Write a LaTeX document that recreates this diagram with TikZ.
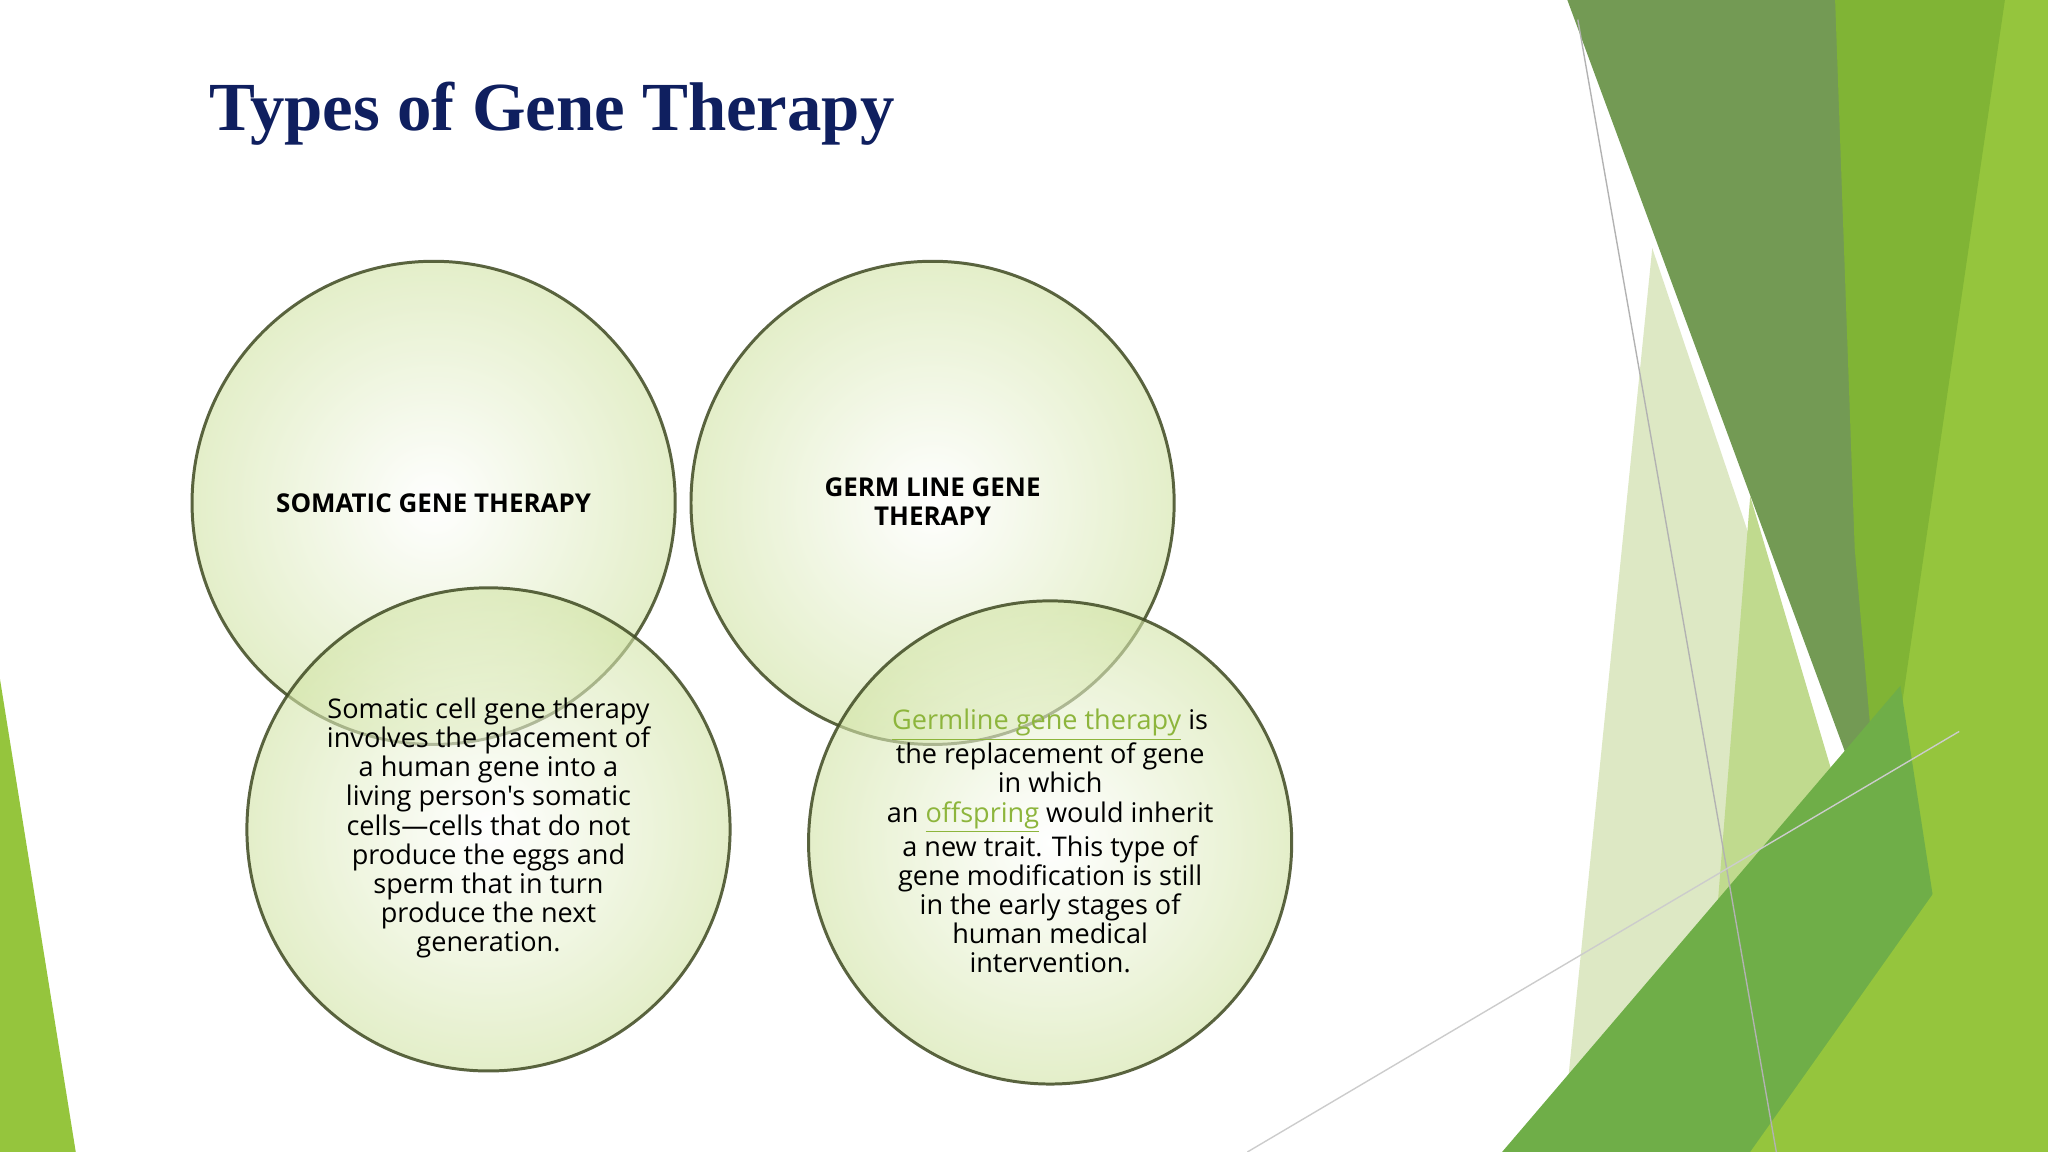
\documentclass[tikz,border=0pt]{standalone}
\usepackage{fontspec}
\setmainfont{Liberation Serif}
\newfontfamily\bodyf{Open Sans}
\usetikzlibrary{shadings}
\definecolor{navy}{HTML}{0F1F5F}
\definecolor{dgreen}{HTML}{739A54}
\definecolor{bgreen}{HTML}{80B435}
\definecolor{lgreen}{HTML}{95C53D}
\definecolor{pgreen}{HTML}{DDE8C4}
\definecolor{mgreen}{HTML}{6FAE48}
\definecolor{linkc}{HTML}{8DB53C}
\definecolor{edgec}{HTML}{3F4A22}
\definecolor{bubout}{HTML}{D2E4A6}
\tikzset{
  bubble/.style={circle, minimum size=7.4cm, draw=edgec, line width=1.3pt,
    inner color=white, outer color=bubout, fill opacity=0.6, draw opacity=0.85},
  body/.style={font=\bodyf\fontsize{11.8}{12.7}\selectfont, align=center, text=black},
  head/.style={font=\bodyf\bfseries\fontsize{11.3}{13}\selectfont, align=center}
}
\newcommand{\lnk}[1]{\textcolor{linkc}{\underline{#1}}}
\begin{document}
\begin{tikzpicture}[x=0.02cm,y=-0.02cm]
\useasboundingbox (0,0) rectangle (1568,882);
\fill[white] (0,0) rectangle (1568,882);
% background shapes
\fill[lgreen] (1530,0) -- (1568,0) -- (1568,882) -- (1395,882) -- cycle;
\fill[pgreen] (1265,190) -- (1420,650) -- (1340,882) -- (1195,882) -- cycle;
\fill[pgreen!60!lgreen] (1340,380) -- (1420,650) -- (1300,882) -- cycle;
\fill[dgreen] (1200,0) -- (1420,0) -- (1440,650) -- cycle;
\fill[bgreen] (1405,0) -- (1535,0) -- (1440,650) -- (1420,420) -- cycle;
\fill[mgreen] (1150,882) -- (1455,525) -- (1510,882) -- cycle;
\fill[lgreen] (1340,882) -- (1568,560) -- (1568,882) -- cycle;
\fill[lgreen] (0,520) -- (0,882) -- (58,882) -- cycle;
\draw[gray!60, line width=0.6pt] (1208,15) -- (1360,882);
\draw[gray!40, line width=0.6pt] (955,882) -- (1500,560);
% title
\node[anchor=base west, font=\bfseries\fontsize{30}{34}\selectfont, text=navy, inner sep=0] (title) at (160,100) {Types of Gene Therapy};
% bubbles
\node[bubble] (c1) at (332,385) {};
\node[bubble] (c2) at (714,385) {};
\node[bubble] (c3) at (374,635) {};
\node[bubble] (c4) at (804,645) {};
\node[head] (t1) at (332,385) {SOMATIC GENE THERAPY};
\node[head] (t2) at (714,384) {GERM LINE GENE\\THERAPY};
\node[body] (b1) at (374,634) {Somatic cell gene therapy\\involves the placement of\\a human gene into a\\living person's somatic\\cells—cells that do not\\produce the eggs and\\sperm that in turn\\produce the next\\generation.};
\node[body] (b2) at (804,644) {\lnk{Germline gene therapy} is\\the replacement of gene\\in which\\an \lnk{offspring} would inherit\\a new trait. This type of\\gene modification is still\\in the early stages of\\human medical\\intervention.};
\end{tikzpicture}
\end{document}
